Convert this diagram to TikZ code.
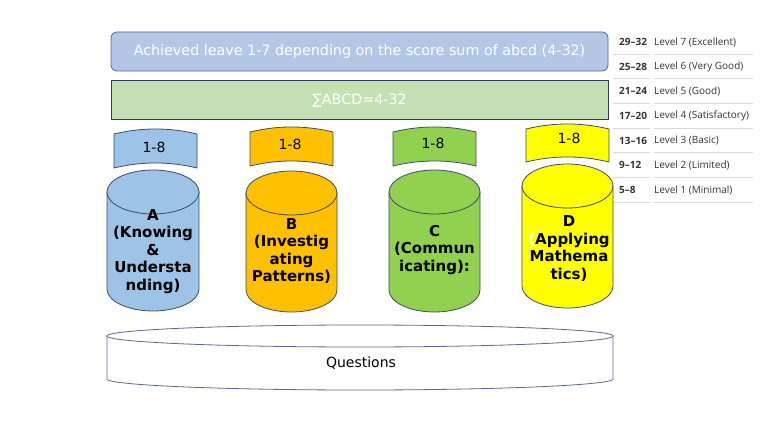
\documentclass[tikz,border=0pt]{standalone}
\usepackage{fontspec}
\setmainfont{DejaVu Sans}
\newfontfamily\tablefont{Open Sans}
\usepackage{xcolor}
\usetikzlibrary{positioning}
\definecolor{headfill}{HTML}{B4C7E7}
\definecolor{headline}{HTML}{4F6491}
\definecolor{sumfill}{HTML}{C5E0B4}
\definecolor{sumline}{HTML}{2F3B55}
\definecolor{cylline}{HTML}{3E4C66}
\definecolor{questline}{HTML}{5A6B88}
\definecolor{knowfill}{HTML}{9DC3E6}
\definecolor{investfill}{HTML}{FFC000}
\definecolor{commfill}{HTML}{92D050}
\definecolor{applyfill}{HTML}{FFFF00}
\definecolor{rulegray}{HTML}{D9D9D9}
\definecolor{tabletext}{HTML}{333333}

\begin{document}
\begin{tikzpicture}[
  x=1pt, y=-1pt,
  bar/.style={draw, minimum width=497pt, minimum height=39pt, line width=0.8pt, text=white, font=\fontsize{14.3}{16}\selectfont},
  cyl/.style={draw=cylline, line width=0.8pt},
  cyltext/.style={align=center, inner sep=0pt, font=\fontsize{15}{17.5}\selectfont\bfseries},
  tabtext/.style={inner sep=0pt, font=\fontsize{14}{16}\selectfont},
  score/.style={anchor=west, inner sep=0pt, text=tabletext, font=\tablefont\fontsize{10}{12}\selectfont\bfseries},
  level/.style={anchor=west, inner sep=0pt, text=tabletext, font=\tablefont\fontsize{10}{12}\selectfont},
  rule/.style={draw=rulegray, line width=0.6pt}
]
\useasboundingbox (0,0) rectangle (768,433);
% header bars
\node[bar, fill=headfill, draw=headline, rounded corners=6pt] (goal) at (359.5,51.5) {Achieved leave 1-7 depending on the score sum of abcd (4-32)};
\node[bar, fill=sumfill, draw=sumline, below=9pt of goal] (sum) {∑ABCD=4-32};
% level table
\node[score] (s7) at (619,42) {29–32}; \node[level] (l7) at (654,42) {Level 7 (Excellent)};
\node[score] (s6) at (619,66.7) {25–28}; \node[level] (l6) at (654,66.7) {Level 6 (Very Good)};
\node[score] (s5) at (619,91.3) {21–24}; \node[level] (l5) at (654,91.3) {Level 5 (Good)};
\node[score] (s4) at (619,116) {17–20}; \node[level] (l4) at (654,116) {Level 4 (Satisfactory)};
\node[score] (s3) at (619,140.7) {13–16}; \node[level] (l3) at (654,140.7) {Level 3 (Basic)};
\node[score] (s2) at (619,165.3) {9–12}; \node[level] (l2) at (654,165.3) {Level 2 (Limited)};
\node[score] (s1) at (619,190) {5–8}; \node[level] (l1) at (654,190) {Level 1 (Minimal)};
\draw[rule] (613,54) -- (650,54) (613,78.7) -- (650,78.7) (613,103.3) -- (650,103.3) (613,128) -- (650,128)
  (613,152.7) -- (650,152.7) (613,177.3) -- (650,177.3) (613,202) -- (650,202);
\draw[rule] (654,54) -- (753,54) (654,78.7) -- (753,78.7) (654,103.3) -- (753,103.3) (654,128) -- (753,128)
  (654,152.7) -- (753,152.7) (654,177.3) -- (753,177.3) (654,202) -- (753,202);
% score tabs
\draw[cyl, fill=knowfill] (114,134) .. controls (141.7,127.3) and (169.3,127.3) .. (197,134) -- (197,168)
  .. controls (169.3,161.3) and (141.7,161.3) .. (114,168) -- cycle;
\draw[cyl, fill=investfill] (250,132) .. controls (277.7,125.3) and (305.3,125.3) .. (333,132) -- (333,166)
  .. controls (305.3,159.3) and (277.7,159.3) .. (250,166) -- cycle;
\draw[cyl, fill=commfill] (393,132) .. controls (420.7,125.3) and (448.3,125.3) .. (476,132) -- (476,166)
  .. controls (448.3,159.3) and (420.7,159.3) .. (393,166) -- cycle;
\draw[cyl, fill=applyfill] (526,129) .. controls (553.7,122.3) and (581.3,122.3) .. (609,129) -- (609,162)
  .. controls (581.3,155.3) and (553.7,155.3) .. (526,162) -- cycle;
\node[tabtext] (markA) at (154,147) {1-8};
\node[tabtext] (markB) at (290,144) {1-8};
\node[tabtext] (markC) at (433,143) {1-8};
\node[tabtext] (markD) at (569,138) {1-8};
% criterion cylinders
\draw[cyl, fill=knowfill] (107,192) -- (107,289) arc[start angle=180, end angle=0, x radius=46, y radius=22] -- (199,192) -- cycle;
\draw[cyl, fill=knowfill] (153,192) ellipse[x radius=46, y radius=22];
\draw[cyl, fill=investfill] (246,193) -- (246,290) arc[start angle=180, end angle=0, x radius=45.5, y radius=22] -- (337,193) -- cycle;
\draw[cyl, fill=investfill] (291.5,193) ellipse[x radius=45.5, y radius=22];
\draw[cyl, fill=commfill] (389,192) -- (389,290) arc[start angle=180, end angle=0, x radius=45.5, y radius=22] -- (480,192) -- cycle;
\draw[cyl, fill=commfill] (434.5,192) ellipse[x radius=45.5, y radius=22];
\draw[cyl, fill=applyfill] (522,186) -- (522,286) arc[start angle=180, end angle=0, x radius=45.5, y radius=22] -- (613,186) -- cycle;
\draw[cyl, fill=applyfill] (567.5,186) ellipse[x radius=45.5, y radius=22];
\node[cyltext] (know) at (153,251.5) {A\\(Knowing\\\&\\Understa\\nding)};
\node[cyltext] (invest) at (291.5,251) {B\\(Investig\\ating\\Patterns)};
\node[cyltext] (comm) at (434.5,250) {C\\(Commun\\icating):};
\node[cyltext] (apply) at (569,248.5) {D\\{\color{white!85!applyfill}(}Applying\\Mathema\\tics)};
% question base
\draw[cyl, draw=questline, fill=white] (107,336) -- (107,379) arc[start angle=180, end angle=0, x radius=253, y radius=11] -- (613,336) -- cycle;
\draw[cyl, draw=questline, fill=white] (360,336) ellipse[x radius=253, y radius=11];
\node[tabtext] (quest) at (361,363) {Questions};
\end{tikzpicture}
\end{document}
